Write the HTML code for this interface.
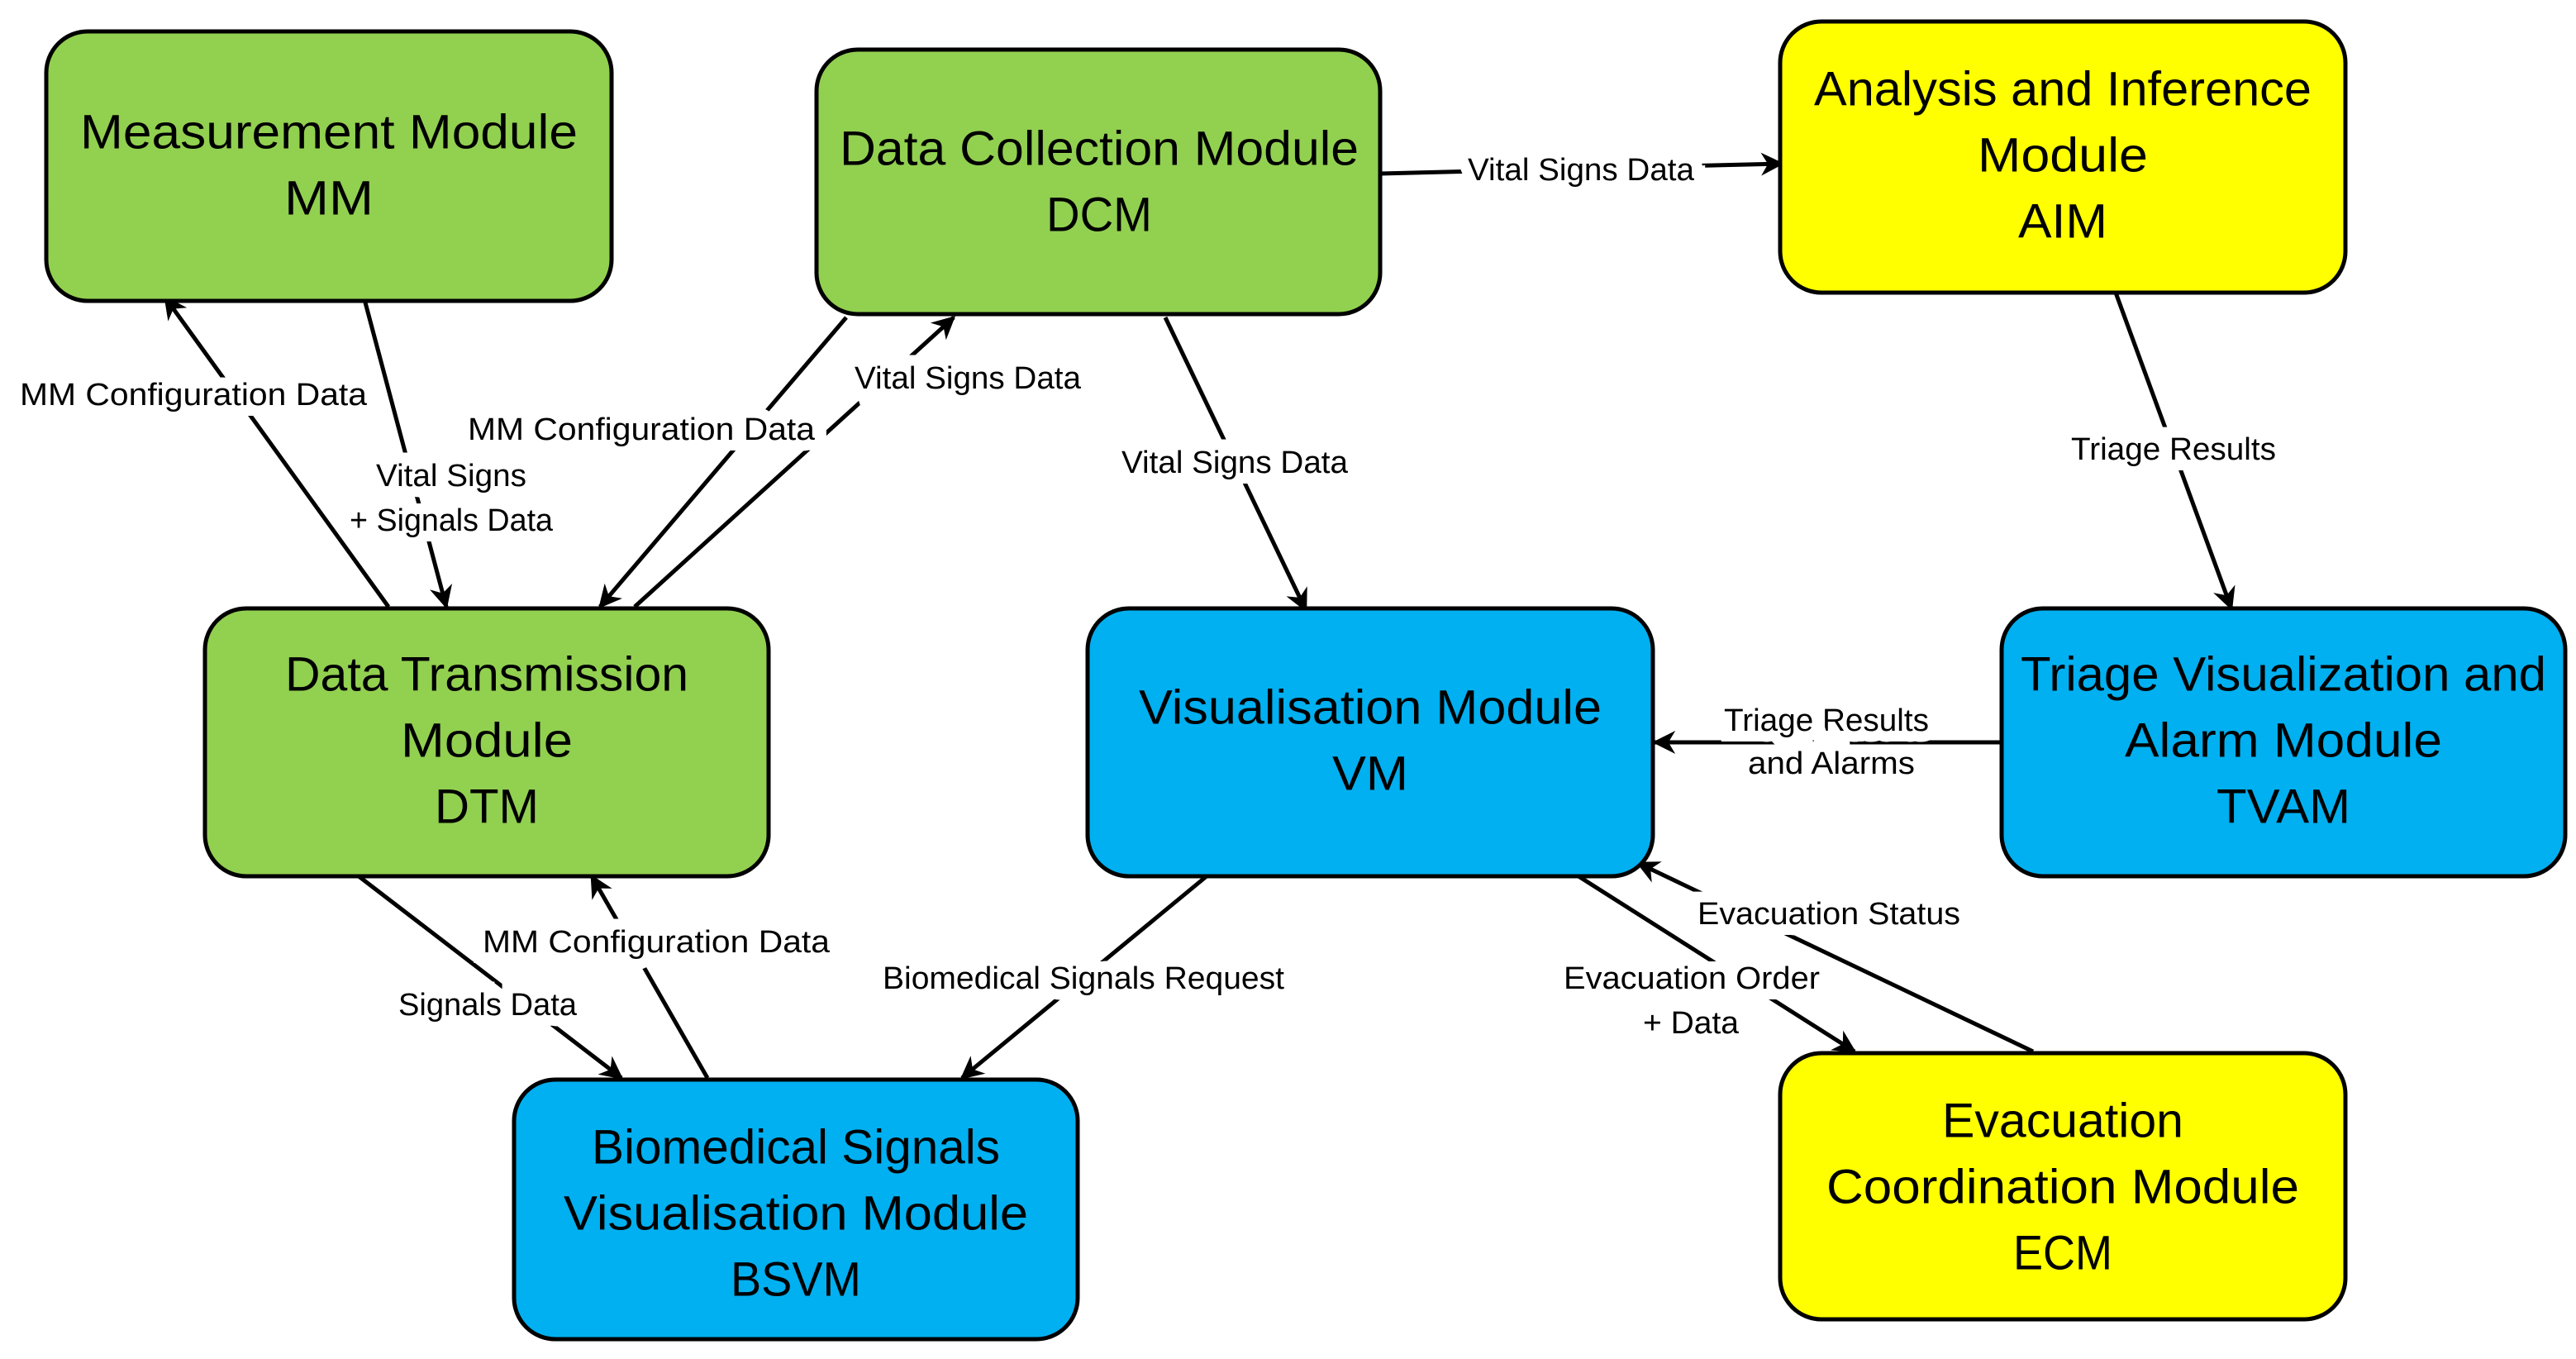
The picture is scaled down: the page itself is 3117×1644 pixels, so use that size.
<!DOCTYPE html>
<html><head><meta charset="utf-8"><style>html,body{margin:0;padding:0;background:#fff}svg{display:block}</style></head>
<body>
<svg width="3117" height="1644" viewBox="0 0 3117 1644" xmlns="http://www.w3.org/2000/svg" font-family="Liberation Sans, sans-serif">
<defs>
<marker id="ah" viewBox="0 0 10 10" refX="9" refY="5" markerWidth="28" markerHeight="28" markerUnits="userSpaceOnUse" orient="auto"><path d="M0,0 L10,5 L0,10 L3,5 z" fill="#000"/></marker>
</defs>
<g stroke="#000" stroke-width="5" fill="none" marker-end="url(#ah)">
<line x1="470" y1="734" x2="200" y2="360"/>
<line x1="442" y1="366" x2="540" y2="734"/>
<line x1="1024" y1="384" x2="726" y2="734"/>
<line x1="768" y1="734" x2="1154" y2="384"/>
<line x1="1670" y1="210" x2="2156" y2="198"/>
<line x1="1410" y1="384" x2="1580" y2="738"/>
<line x1="2560" y1="354" x2="2700" y2="736"/>
<line x1="2420" y1="898" x2="2002" y2="898"/>
<line x1="1460" y1="1060" x2="1164" y2="1304"/>
<line x1="1910" y1="1060" x2="2244" y2="1272"/>
<line x1="2460" y1="1272" x2="1982" y2="1044"/>
<line x1="434" y1="1060" x2="752" y2="1304"/>
<line x1="856" y1="1304" x2="716" y2="1060"/>
</g>
<g stroke="#000" stroke-width="5">
<rect x="56" y="38" width="684" height="326" rx="50" fill="#92D050"/>
<rect x="988" y="60" width="682" height="320" rx="50" fill="#92D050"/>
<rect x="2154" y="26" width="684" height="328" rx="50" fill="#FFFF00"/>
<rect x="248" y="736" width="682" height="324" rx="50" fill="#92D050"/>
<rect x="1316" y="736" width="684" height="324" rx="50" fill="#00B0F0"/>
<rect x="2422" y="736" width="682" height="324" rx="50" fill="#00B0F0"/>
<rect x="622" y="1306" width="682" height="314" rx="50" fill="#00B0F0"/>
<rect x="2154" y="1274" width="684" height="322" rx="50" fill="#FFFF00"/>
</g>
<g font-size="58" text-anchor="middle" dominant-baseline="central" fill="#000">
<text x="398" y="160" textLength="602" lengthAdjust="spacingAndGlyphs">Measurement Module</text>
<text x="398" y="240" textLength="108" lengthAdjust="spacingAndGlyphs">MM</text>
<text x="1330" y="180" textLength="628" lengthAdjust="spacingAndGlyphs">Data Collection Module</text>
<text x="1330" y="260" textLength="128" lengthAdjust="spacingAndGlyphs">DCM</text>
<text x="2496" y="108" textLength="602" lengthAdjust="spacingAndGlyphs">Analysis and Inference</text>
<text x="2496" y="188" textLength="206" lengthAdjust="spacingAndGlyphs">Module</text>
<text x="2496" y="268" textLength="108" lengthAdjust="spacingAndGlyphs">AIM</text>
<text x="589" y="816" textLength="488" lengthAdjust="spacingAndGlyphs">Data Transmission</text>
<text x="589" y="896" textLength="208" lengthAdjust="spacingAndGlyphs">Module</text>
<text x="589" y="976" textLength="126" lengthAdjust="spacingAndGlyphs">DTM</text>
<text x="1658" y="856" textLength="560" lengthAdjust="spacingAndGlyphs">Visualisation Module</text>
<text x="1658" y="936" textLength="92" lengthAdjust="spacingAndGlyphs">VM</text>
<text x="2763" y="816" textLength="636" lengthAdjust="spacingAndGlyphs">Triage Visualization and</text>
<text x="2763" y="896" textLength="384" lengthAdjust="spacingAndGlyphs">Alarm Module</text>
<text x="2763" y="976" textLength="162" lengthAdjust="spacingAndGlyphs">TVAM</text>
<text x="963" y="1388" textLength="494" lengthAdjust="spacingAndGlyphs">Biomedical Signals</text>
<text x="963" y="1468" textLength="562" lengthAdjust="spacingAndGlyphs">Visualisation Module</text>
<text x="963" y="1548" textLength="158" lengthAdjust="spacingAndGlyphs">BSVM</text>
<text x="2496" y="1356" textLength="292" lengthAdjust="spacingAndGlyphs">Evacuation</text>
<text x="2496" y="1436" textLength="572" lengthAdjust="spacingAndGlyphs">Coordination Module</text>
<text x="2496" y="1516" textLength="120" lengthAdjust="spacingAndGlyphs">ECM</text>
</g>
<g font-size="38" text-anchor="middle" dominant-baseline="central" fill="#000" stroke="#fff" stroke-width="26" paint-order="stroke" stroke-linejoin="miter">
<text x="234" y="478" textLength="420" lengthAdjust="spacingAndGlyphs">MM Configuration Data</text>
<text x="546" y="576" textLength="182" lengthAdjust="spacingAndGlyphs">Vital Signs</text>
<text x="546" y="630" textLength="246" lengthAdjust="spacingAndGlyphs">+ Signals Data</text>
<text x="776" y="520" textLength="420" lengthAdjust="spacingAndGlyphs">MM Configuration Data</text>
<text x="1171" y="458" textLength="274" lengthAdjust="spacingAndGlyphs">Vital Signs Data</text>
<text x="1913" y="206" textLength="274" lengthAdjust="spacingAndGlyphs">Vital Signs Data</text>
<text x="1494" y="560" textLength="274" lengthAdjust="spacingAndGlyphs">Vital Signs Data</text>
<text x="2630" y="544" textLength="248" lengthAdjust="spacingAndGlyphs">Triage Results</text>
<text x="2210" y="872" textLength="248" lengthAdjust="spacingAndGlyphs">Triage Results</text>
<text x="2216" y="924" textLength="202" lengthAdjust="spacingAndGlyphs">and Alarms</text>
<text x="1311" y="1184" textLength="486" lengthAdjust="spacingAndGlyphs">Biomedical Signals Request</text>
<text x="2213" y="1106" textLength="318" lengthAdjust="spacingAndGlyphs">Evacuation Status</text>
<text x="2047" y="1184" textLength="310" lengthAdjust="spacingAndGlyphs">Evacuation Order</text>
<text x="2046" y="1238" textLength="116" lengthAdjust="spacingAndGlyphs">+ Data</text>
<text x="590" y="1216" textLength="216" lengthAdjust="spacingAndGlyphs">Signals Data</text>
<text x="794" y="1140" textLength="420" lengthAdjust="spacingAndGlyphs">MM Configuration Data</text>
</g>
</svg>
</body></html>
